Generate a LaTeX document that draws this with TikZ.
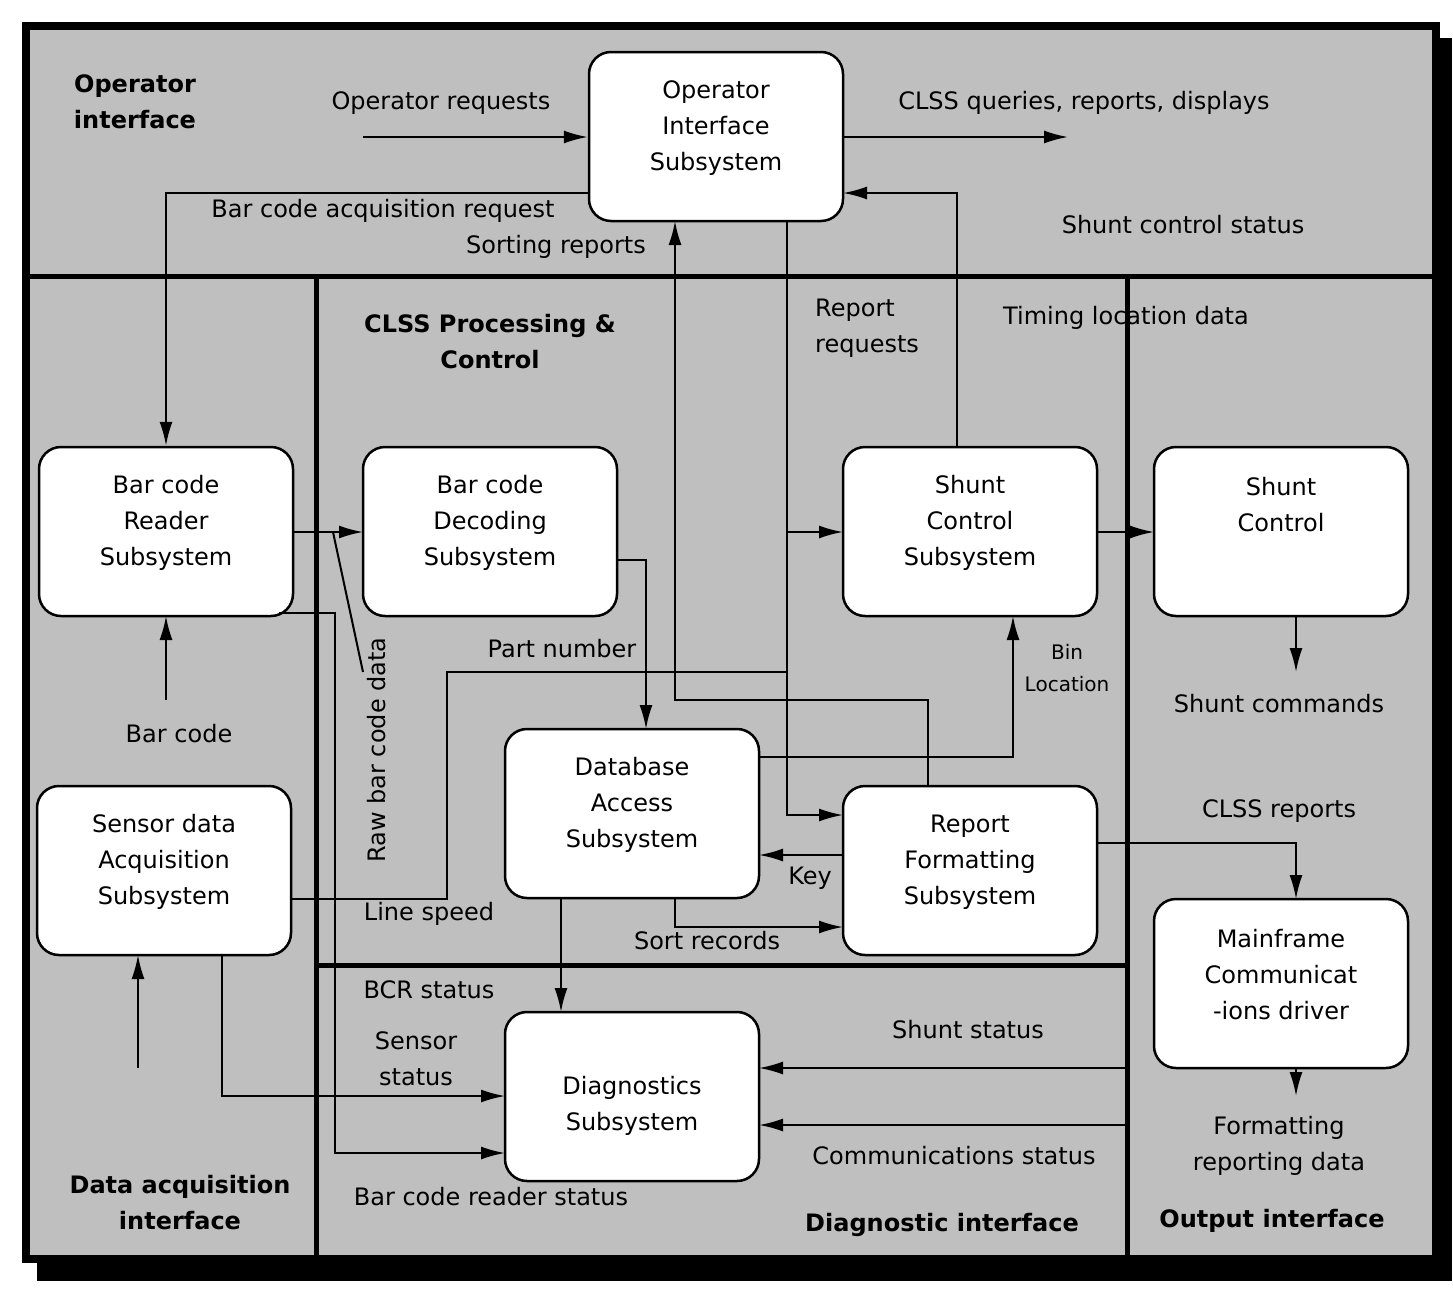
\documentclass[tikz,border=0pt]{standalone}
\usepackage{fontspec}
\setmainfont{DejaVu Sans}
\usetikzlibrary{arrows.meta}
\begin{document}
\begin{tikzpicture}[x=1pt,y=-1pt,
  box/.style={draw,line width=2.5pt,fill=white,rounded corners=22pt},
  t/.style={font=\fontsize{24}{36}\selectfont,align=center,inner sep=0},
  b/.style={font=\fontsize{24}{36}\selectfont\bfseries,align=center,inner sep=0},
  ar/.style={line width=2pt,-{Latex[length=24pt,width=13pt]}},
  ln/.style={line width=2pt}]
\useasboundingbox (0,0) rectangle (1453,1293);
\fill[black] (37,38) rectangle (1452,1281);
\filldraw[fill=black!25,draw=black,line width=8pt] (26,26) rectangle (1436,1259);
\draw[line width=5pt] (26,276) -- (1436,276);
\draw[line width=5pt] (316,276) -- (316,1259);
\draw[line width=5pt] (1127,276) -- (1127,1259);
\draw[line width=5pt] (316,965) -- (1127,965);
% boxes
\node[box,minimum width=254pt,minimum height=169pt] (oi) at (716,136.5) {};
\node[box,minimum width=254pt,minimum height=169pt] (bcr) at (166,531.5) {};
\node[box,minimum width=254pt,minimum height=169pt] (bcd) at (490,531.5) {};
\node[box,minimum width=254pt,minimum height=169pt] (scs) at (970,531.5) {};
\node[box,minimum width=254pt,minimum height=169pt] (sc) at (1281,531.5) {};
\node[box,minimum width=254pt,minimum height=169pt] (db) at (632,813.5) {};
\node[box,minimum width=254pt,minimum height=169pt] (sd) at (164,870.5) {};
\node[box,minimum width=254pt,minimum height=169pt] (rf) at (970,870.5) {};
\node[box,minimum width=254pt,minimum height=169pt] (mf) at (1281,983.5) {};
\node[box,minimum width=254pt,minimum height=169pt] (dg) at (632,1096.5) {};
\node[t] at (716,128) {Operator\\Interface\\Subsystem};
\node[t] at (166,523) {Bar code\\Reader\\Subsystem};
\node[t] at (490,523) {Bar code\\Decoding\\Subsystem};
\node[t] at (970,523) {Shunt\\Control\\Subsystem};
\node[t] at (1281,505) {Shunt\\Control};
\node[t] at (632,805) {Database\\Access\\Subsystem};
\node[t] at (164,862) {Sensor data\\Acquisition\\Subsystem};
\node[t] at (970,862) {Report\\Formatting\\Subsystem};
\node[t] at (1281,975) {Mainframe\\Communicat\\-ions driver};
\node[t] at (632,1106) {Diagnostics\\Subsystem};
% region labels
\node[b] at (135,102) {Operator\\interface};
\node[b] at (490,342) {CLSS Processing \&\\Control};
\node[b] at (180,1203) {Data acquisition\\interface};
\node[b] at (942,1225) {Diagnostic interface};
\node[b] at (1272,1221) {Output interface};
% connectors
\coordinate (c1) at (363,137); \draw[ar] (c1) -- (oi.west|-c1);
\coordinate (c2) at (1068,137); \draw[ar] (oi.east|-c2) -- (c2);
\draw[ar] (589,193) -- (166,193) -- (bcr.north);
\draw[ar] (928,786) -- (928,700) -- (675,700) -- (675,221);
\draw[ar] (957,447) -- (957,193) -- (843,193);
\draw[ar] (787,221) -- (787,815) -- (843,815);
\draw[ar] (291,899) -- (447,899) -- (447,672) -- (787,672) -- (787,532) -- (843,532);
\draw[ar] (293,532) -- (363,532);
\draw[ln] (363,672) -- (333,532);
\draw[ar] (279,613) -- (335,613) -- (335,1153) -- (505,1153);
\draw[ar] (617,560) -- (646,560) -- (646,729);
\draw[ar] (759,757) -- (1013,757) -- (1013,616);
\draw[ar] (843,855) -- (759,855);
\draw[ar] (675,898) -- (675,927) -- (843,927);
\draw[ar] (561,898) -- (561,1012);
\draw[ar] (222,955) -- (222,1096) -- (505,1096);
\draw[ar] (166,700) -- (166,616);
\draw[ar] (138,1068) -- (138,955);
\draw[ar] (1097,532) -- (1154,532);
\draw[ar] (1296,616) -- (1296,672);
\draw[ar] (1097,843) -- (1296,843) -- (1296,899);
\draw[ar] (1296,1068) -- (1296,1096);
\draw[ar] (1127,1068) -- (759,1068);
\draw[ar] (1127,1125) -- (759,1125);
% labels
\node[t] at (441,103) {Operator requests};
\node[t] at (1084,103) {CLSS queries, reports, displays};
\node[t] at (383,211) {Bar code acquisition request};
\node[t] at (556,247) {Sorting reports};
\node[t] at (1183,225) {Shunt control status};
\node[t,align=left,anchor=west] at (815,328) {Report\\requests};
\node[t] at (1126,318) {Timing location data};
\node[t] at (562,649) {Part number};
\node[t,rotate=90] at (377,750) {Raw bar code data};
\node[t] at (179,734) {Bar code};
\node[t] at (429,914) {Line speed};
\node[t] at (810,878) {Key};
\node[t] at (707,941) {Sort records};
\node[font=\fontsize{20}{32}\selectfont,align=center,inner sep=0] at (1067,668) {Bin\\Location};
\node[t] at (1279,704) {Shunt commands};
\node[t] at (1279,811) {CLSS reports};
\node[t] at (429,990) {BCR status};
\node[t] at (416,1059) {Sensor\\status};
\node[t] at (968,1030) {Shunt status};
\node[t] at (954,1156) {Communications status};
\node[t] at (491,1197) {Bar code reader status};
\node[t] at (1279,1146) {Formatting\\reporting data};
\end{tikzpicture}
\end{document}
